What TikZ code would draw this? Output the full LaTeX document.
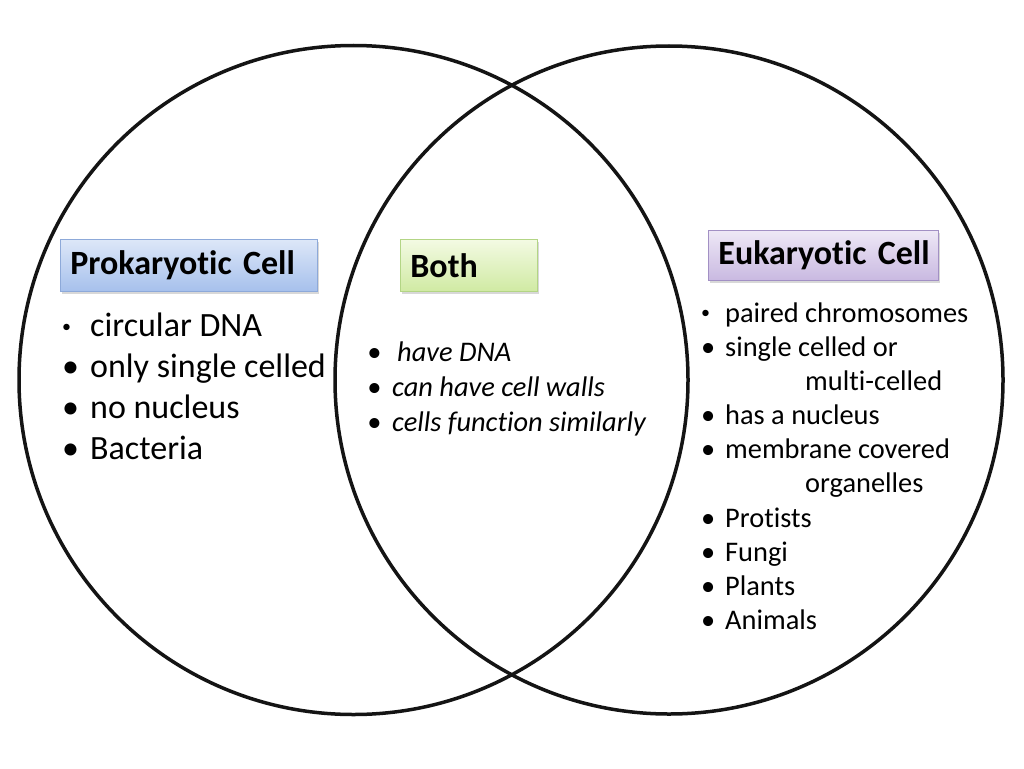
\documentclass[tikz,border=0pt]{standalone}
\usepackage{fontspec}
\setmainfont{Carlito}[Ligatures=NoCommon]
\usetikzlibrary{shadows}
\definecolor{bluetop}{HTML}{DDE7F8}
\definecolor{bluebot}{HTML}{A6C0EC}
\definecolor{blueborder}{HTML}{8DA9D9}
\definecolor{greentop}{HTML}{F3FAE3}
\definecolor{greenbot}{HTML}{D0EAA3}
\definecolor{greenborder}{HTML}{B3D585}
\definecolor{purpletop}{HTML}{EEE8F6}
\definecolor{purplebot}{HTML}{C9B9E1}
\definecolor{purpleborder}{HTML}{A290C4}
\newcommand{\bul}[1]{\makebox[#1][l]{\textbullet}}
\newcommand{\sbul}[2]{\makebox[#1][l]{\raisebox{#2}{\fontsize{18}{18}\selectfont\textbullet}}}
\begin{document}
\begin{tikzpicture}[x=1pt,y=-1pt,
  ring/.style={line width=3.5pt, draw=black!92},
  titlebox/.style={draw=#1border, line width=0.8pt, top color=#1top, bottom color=#1bot,
    drop shadow={opacity=0.3, shadow xshift=2pt, shadow yshift=-2.5pt},
    font=\fontsize{34}{40}\selectfont\bfseries, anchor=north west,
    inner xsep=10pt, inner ysep=0pt, align=left},
  lbig/.style={anchor=base west, inner sep=0pt, font=\fontsize{34}{40}\selectfont},
  lsmall/.style={anchor=base west, inner sep=0pt, font=\fontsize{28.4}{34}\selectfont},
  lital/.style={lsmall, font=\fontsize{28.4}{34}\selectfont\itshape}
]
\useasboundingbox[fill=white] (0,0) rectangle (1024,768);
% circles
\draw[ring] (353.5,380) circle[radius=334.5pt];
\draw[ring] (669,380) circle[radius=334pt];
% titles
\node[titlebox=blue, text width=237pt, minimum height=52pt] (prok) at (60,239) {\mbox{Prokaryotic Cell}};
\node[titlebox=green, text width=117pt, minimum height=52pt] (both) at (400,239) {\mbox{Both}};
\node[titlebox=purple, text width=210pt, minimum height=50pt] (euk) at (708,230) {\mbox{Eukaryotic Cell}};
% left list
\node[lbig] (p1) at (62,336) {\sbul{28pt}{4pt}circular DNA};
\node[lbig] (p2) at (62,377) {\bul{28pt}only single celled};
\node[lbig] (p3) at (62,418) {\bul{28pt}no nucleus};
\node[lbig] (p4) at (62,459) {\bul{28pt}Bacteria};
% both list
\node[lital] (b1) at (367,361) {\bul{30pt}have DNA};
\node[lital] (b2) at (367,396) {\bul{25pt}can have cell walls};
\node[lital] (b3) at (367,431) {\bul{25pt}cells function similarly};
% right list
\node[lsmall] (e1) at (701,322) {\sbul{24pt}{3.5pt}paired chromosomes};
\node[lsmall] (e2) at (701,356) {\bul{24pt}single celled or};
\node[lsmall] (e3) at (701,390) {\hspace*{104pt}multi-celled};
\node[lsmall] (e4) at (701,424) {\bul{24pt}has a nucleus};
\node[lsmall] (e5) at (701,458) {\bul{24pt}membrane covered};
\node[lsmall] (e6) at (701,492) {\hspace*{104pt}organelles};
\node[lsmall] (e7) at (701,527) {\bul{24pt}Protists};
\node[lsmall] (e8) at (701,561) {\bul{24pt}Fungi};
\node[lsmall] (e9) at (701,595) {\bul{24pt}Plants};
\node[lsmall] (e10) at (701,629) {\bul{24pt}Animals};
\end{tikzpicture}
\end{document}
